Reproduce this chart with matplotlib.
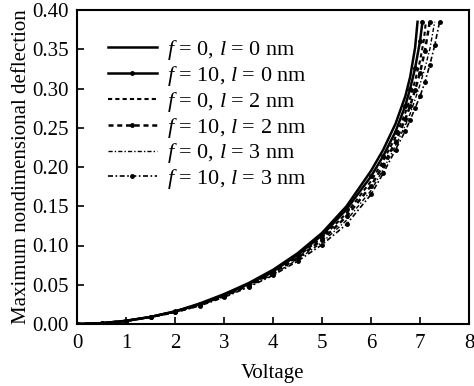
import matplotlib
matplotlib.use("Agg")
import matplotlib.pyplot as plt

plt.rcParams['font.family'] = ['Liberation Serif', 'DejaVu Serif']
plt.rcParams['mathtext.fontset'] = 'custom'
plt.rcParams['mathtext.rm'] = 'Liberation Serif'
plt.rcParams['mathtext.it'] = 'Liberation Serif:italic'

# Data (voltage, max nondimensional deflection)
V1 = [0, 0.5, 1, 1.5, 2, 2.5, 3, 3.5, 4, 4.5, 5, 5.5, 6, 6.25, 6.5, 6.7, 6.8, 6.9, 6.95]
W1 = [0, 0.001, 0.004, 0.009, 0.016, 0.026, 0.038, 0.052, 0.069, 0.090, 0.116, 0.150, 0.195, 0.222, 0.255, 0.290, 0.315, 0.352, 0.385]
V2 = [0, 0.5, 1, 1.5, 2, 2.5, 3, 3.5, 4, 4.5, 5, 5.5, 6, 6.25, 6.5, 6.7, 6.8, 6.9, 7.0, 7.05]
W2 = [0, 0.001, 0.004, 0.009, 0.016, 0.025, 0.037, 0.051, 0.067, 0.088, 0.113, 0.146, 0.188, 0.214, 0.245, 0.278, 0.300, 0.326, 0.360, 0.385]
V3 = [0, 0.5, 1, 1.5, 2, 2.5, 3, 3.5, 4, 4.5, 5, 5.5, 6, 6.25, 6.5, 6.7, 6.8, 6.9, 7.0, 7.08, 7.12]
W3 = [0, 0.001, 0.004, 0.009, 0.016, 0.025, 0.037, 0.050, 0.066, 0.086, 0.110, 0.141, 0.182, 0.208, 0.238, 0.269, 0.288, 0.310, 0.335, 0.362, 0.385]
V4 = [0, 0.5, 1, 1.5, 2, 2.5, 3, 3.5, 4, 4.5, 5, 5.5, 6, 6.25, 6.5, 6.7, 6.8, 6.9, 7.0, 7.1, 7.2]
W4 = [0, 0.001, 0.004, 0.009, 0.015, 0.024, 0.036, 0.049, 0.065, 0.084, 0.107, 0.137, 0.176, 0.202, 0.232, 0.261, 0.278, 0.298, 0.320, 0.348, 0.385]
V5 = [0, 0.5, 1, 1.5, 2, 2.5, 3, 3.5, 4, 4.5, 5, 5.5, 6, 6.25, 6.5, 6.7, 6.8, 6.9, 7.0, 7.1, 7.2, 7.3]
W5 = [0, 0.001, 0.004, 0.009, 0.015, 0.024, 0.035, 0.048, 0.063, 0.082, 0.104, 0.132, 0.170, 0.197, 0.227, 0.253, 0.268, 0.286, 0.305, 0.326, 0.350, 0.385]
V6 = [0, 0.5, 1, 1.5, 2, 2.5, 3, 3.5, 4, 4.5, 5, 5.5, 6, 6.25, 6.5, 6.7, 6.8, 6.9, 7.0, 7.1, 7.2, 7.3, 7.4]
W6 = [0, 0.001, 0.004, 0.009, 0.015, 0.023, 0.034, 0.047, 0.062, 0.080, 0.101, 0.127, 0.165, 0.192, 0.222, 0.246, 0.260, 0.275, 0.290, 0.308, 0.330, 0.355, 0.385]

labels = [r"$f$ = 0, $l$ = 0 nm", r"$f$ = 10, $l$ = 0 nm",
          r"$f$ = 0, $l$ = 2 nm", r"$f$ = 10, $l$ = 2 nm",
          r"$f$ = 0, $l$ = 3 nm", r"$f$ = 10, $l$ = 3 nm"]
xticks = [0, 1, 2, 3, 4, 5, 6, 7, 8]
yticks = [0.00, 0.05, 0.10, 0.15, 0.20, 0.25, 0.30, 0.35, 0.40]

fig = plt.figure(figsize=(4.74, 3.86), dpi=100)
ax = fig.add_axes([77/474, 1-324/386, (469-77)/474, (324-10)/386])

ax.plot(V1, W1, color='black', lw=1.8, ls='-', label=labels[0])
ax.plot(V2, W2, color='black', lw=1.8, ls='-', marker='o', ms=2.5, label=labels[1])
ax.plot(V3, W3, color='black', lw=1.5, ls=(0, (2, 1.5)), label=labels[2])
ax.plot(V4, W4, color='black', lw=1.8, ls=(0, (2, 1.5)), marker='o', ms=2.5, label=labels[3])
ax.plot(V5, W5, color='black', lw=1.0, ls=(0, (3, 1.5, 1, 1.5)), label=labels[4])
ax.plot(V6, W6, color='black', lw=1.2, ls=(0, (3, 1.5, 1, 1.5)), marker='o', ms=2.5, label=labels[5])

ax.set_xlim(0, 8)
ax.set_ylim(0, 0.40)
ax.set_xticks(xticks)
ax.set_yticks(yticks)
ax.set_xticklabels([str(x) for x in xticks])
ax.set_yticklabels([f"{y:.2f}" for y in yticks])
ax.tick_params(direction='in', length=5, width=1.2, labelsize=15, top=False, right=False, pad=7)
ax.tick_params(axis='y', pad=6)
for s in ax.spines.values():
    s.set_linewidth(1.5)

ax.set_xlabel("Voltage", fontsize=15, labelpad=8)
ax.set_ylabel("Maximum nondimensional deflection", fontsize=15, labelpad=1)

leg = ax.legend(loc='upper left', bbox_to_anchor=(0.079, 0.91), frameon=False, fontsize=16,
                handlelength=2.2, handletextpad=0.45, labelspacing=0.08, borderaxespad=0, borderpad=0)

fig.savefig("out.png", dpi=100)
